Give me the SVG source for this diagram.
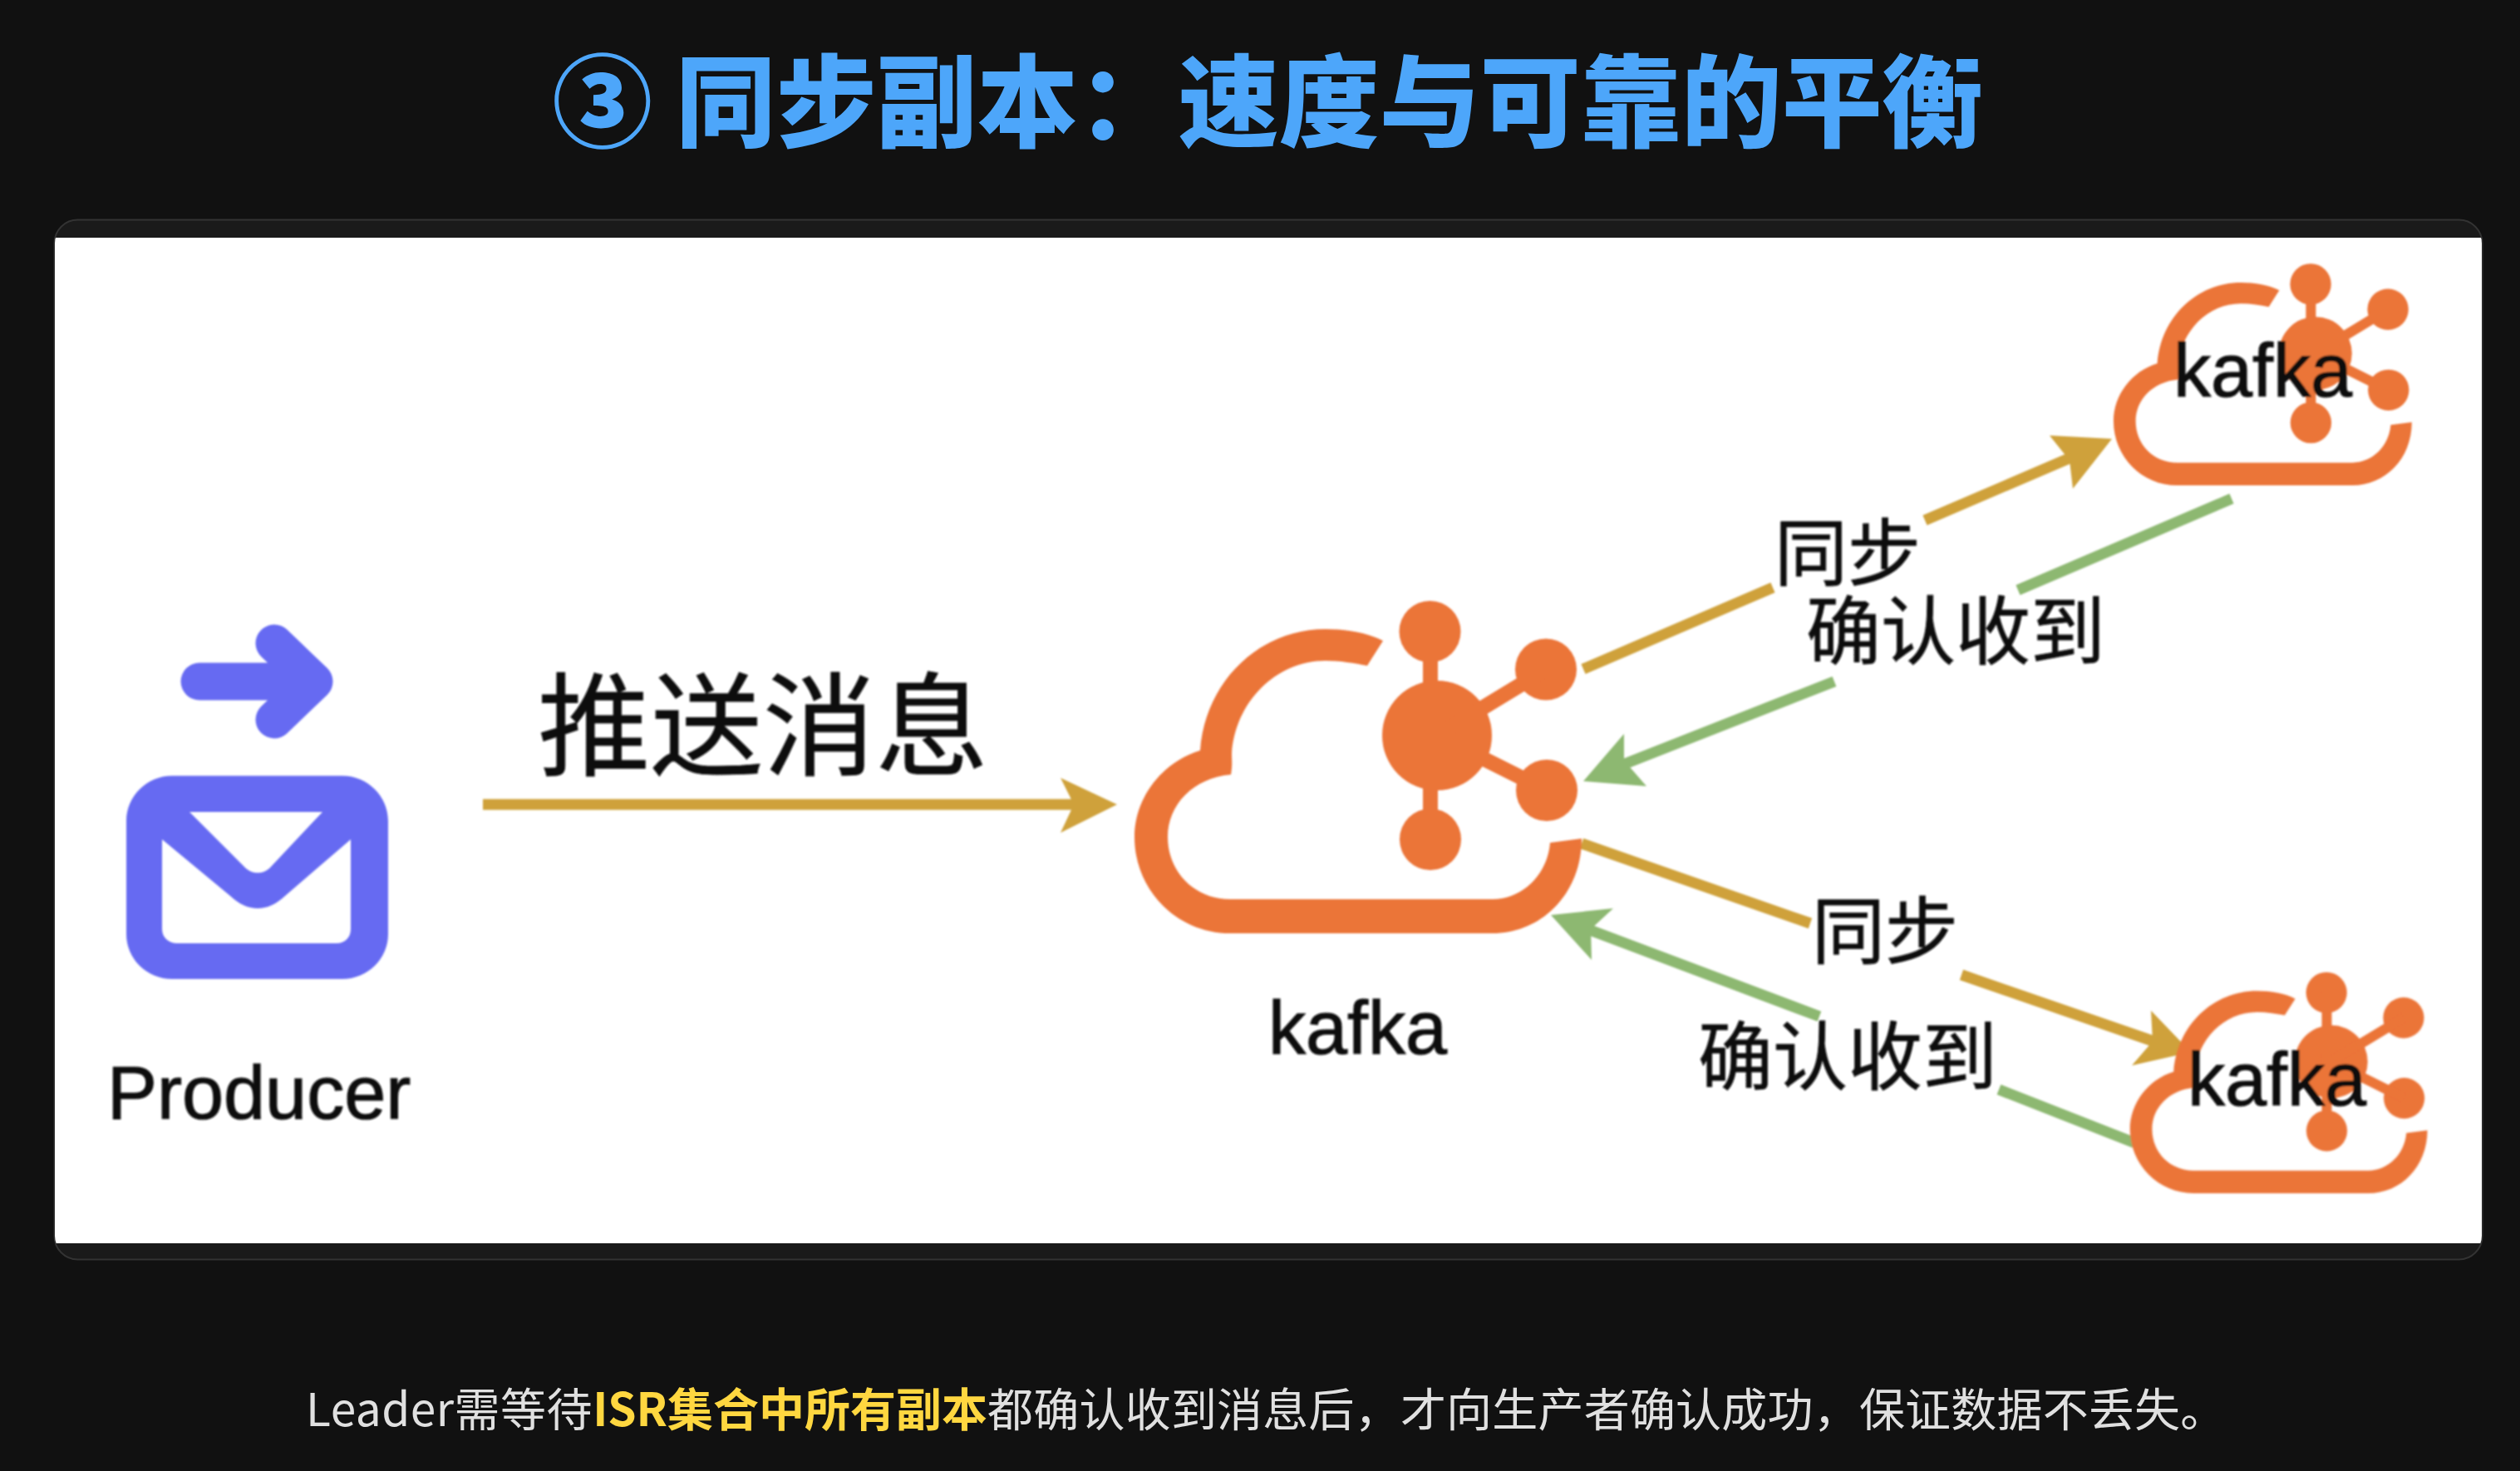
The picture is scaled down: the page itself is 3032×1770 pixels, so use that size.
<svg xmlns="http://www.w3.org/2000/svg" width="3032" height="1770" viewBox="0 0 3032 1770">
<style>
.cjk{font-family:"Noto Sans CJK SC","Noto Sans",sans-serif}
.lat{font-family:"Liberation Sans",Arial,sans-serif;fill:#111;stroke:#111;stroke-width:1.2}
.lbl{font-family:"Liberation Sans","Noto Sans CJK SC",sans-serif;fill:#111;stroke:#111;stroke-width:.8}
.g{stroke:#CFA13B;stroke-width:13;fill:none}
.v{stroke:#8DB871;stroke-width:13;fill:none}
.gh{fill:#CFA13B}
.vh{fill:#8DB871}
.o{fill:#EB7438}
</style>
<defs>
<clipPath id="cardClip"><rect x="66" y="265" width="2920" height="1250" rx="28"/></clipPath>
<filter id="soft" x="-5%" y="-5%" width="110%" height="110%"><feGaussianBlur stdDeviation="1"/></filter>
<g id="kafkaIcon">
<path class="o" d="M1664,771C1644,761 1620,757 1595,757C1515,757 1450,820 1444,903C1398,917 1365,960 1365,1007C1365,1071 1416,1123 1480,1123L1796,1123C1855,1123 1903,1075 1903,1009L1865,1014C1862,1052 1832,1082 1796,1082L1480,1082C1438,1082 1405,1050 1405,1007C1405,968 1436,936 1481,932C1483,920 1482,915 1482,907C1486,845 1535,795 1595,795C1612,795 1630,798 1645,801Z"/>
<circle class="o" cx="1729" cy="885" r="66"/>
<circle class="o" cx="1720.500" cy="760" r="37"/>
<circle class="o" cx="1860" cy="805.500" r="37"/>
<circle class="o" cx="1861" cy="951" r="37"/>
<circle class="o" cx="1721" cy="1010" r="37"/>
<path d="M1721,760V1010M1729,885L1860,805.500M1729,885L1861,951" stroke="#EB7438" stroke-width="18" fill="none"/>
</g>
</defs>
<rect width="3032" height="1770" fill="#111111"/>
<text id="title" class="cjk" x="1525" y="167" font-size="121" font-weight="900" fill="#4DA6FA" text-anchor="middle">③ 同步副本：速度与可靠的平衡</text>
<rect id="card" x="65.500" y="264.500" width="2921" height="1251" rx="28" fill="#1A1A1A" stroke="#333333" stroke-width="2"/>
<g clip-path="url(#cardClip)"><rect x="66" y="286" width="2920" height="1210" fill="#FFFFFF"/></g>
<g filter="url(#soft)">
<g id="connectors">
<path class="g" d="M581,968H1300"/><path class="gh" d="M1344,968L1276,936L1292,968L1276,1002Z"/>
<path class="g" d="M1905,805L2133,707M2316,626L2500,547"/><path class="gh" d="M2541,528L2466,524L2490,554L2494,588Z"/>
<path class="v" d="M2685,600L2428,710M2207,820L1945,923"/><path class="vh" d="M1905,940L1954,883L1954,915L1981,946Z"/>
<path class="g" d="M1903,1015L2178,1111M2360,1173L2600,1256"/><path class="gh" d="M2636,1266L2588,1216L2590,1253L2565,1282Z"/>
<path class="v" d="M2568,1375L2405,1311M2189,1223L1905,1116"/><path class="vh" d="M1866,1101L1941,1093L1914,1118L1915,1155Z"/>
</g>
<g id="producer">
<path fill="#666BF2" fill-rule="evenodd" d="M207,933.500H412C442,933.500 467,958 467,988V1124C467,1154 442,1178 412,1178H207C177,1178 152,1154 152,1124V988C152,958 177,933.500 207,933.500ZM228,977L296,1045C304,1052 316,1052 324,1045L388,977ZM195,1010V1118C195,1128 203,1135 213,1135H405C415,1135 422,1128 422,1118V1010L343,1078C322,1098 298,1098 277,1078Z"/>
<path d="M240,820H375M330,774L378,820L330,866" stroke="#666BF2" stroke-width="45" stroke-linecap="round" stroke-linejoin="round" fill="none"/>
<text class="lat" x="129" y="1346" font-size="90">Producer</text>
</g>
<g id="kafka-main"><use href="#kafkaIcon"/><text class="lat" x="1526" y="1268" font-size="90">kafka</text></g>
<g id="kafka-top"><use href="#kafkaIcon" transform="translate(1632.500,-165) scale(0.667)"/><text class="lat" x="2615" y="477" font-size="90">kafka</text></g>
<g id="kafka-bottom"><use href="#kafkaIcon" transform="translate(1655,689) scale(0.665)"/><text class="lat" x="2632" y="1330" font-size="90">kafka</text></g>
<text class="lbl" x="647" y="923" font-size="135.500">推送消息</text>
<text class="lbl" x="2135" y="697" font-size="88">同步</text>
<text class="lbl" x="2173" y="792" font-size="90">确认收到</text>
<text class="lbl" x="2180" y="1152" font-size="88">同步</text>
<text class="lbl" x="2043" y="1304" font-size="90">确认收到</text>
</g>
<text id="caption" class="cjk" x="368" y="1716" font-size="55" fill="#E0E0E0"><tspan letter-spacing="0.500">Leader需等待</tspan><tspan fill="#FFD740" font-weight="700">ISR集合中所有副本</tspan><tspan letter-spacing="0.200">都确认收到消息后，才向生产者确认成功，保证数据不丢失。</tspan></text>
</svg>
